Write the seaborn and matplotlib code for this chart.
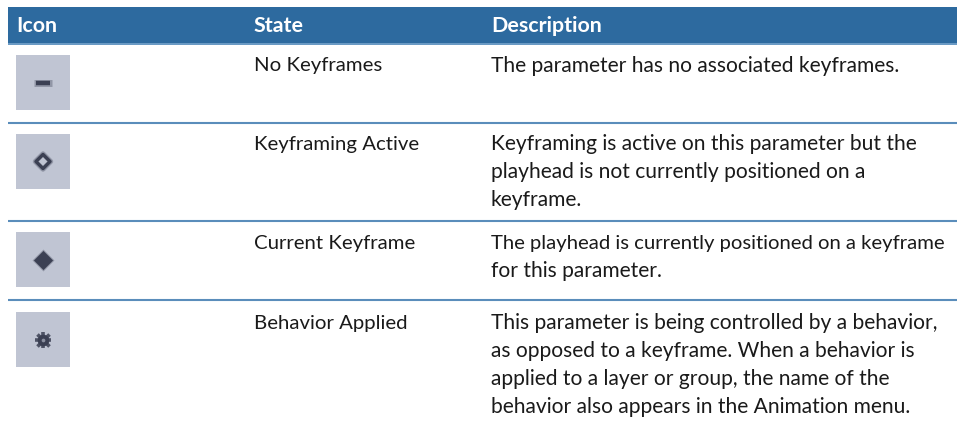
#!/usr/bin/env python3

import matplotlib
matplotlib.use("Agg")
import matplotlib.pyplot as plt
from matplotlib.patches import Rectangle
import pandas as pd
import seaborn as sns

headers = ["Icon", "State", "Description"]
states = ["No Keyframes", "Keyframing Active", "Current Keyframe", "Behavior Applied"]
descriptions = [
    ["The parameter has no associated keyframes."],
    ["Keyframing is active on this parameter but the",
     "playhead is not currently positioned on a",
     "keyframe."],
    ["The playhead is currently positioned on a keyframe",
     "for this parameter."],
    ["This parameter is being controlled by a behavior,",
     "as opposed to a keyframe. When a behavior is",
     "applied to a layer or group, the name of the",
     "behavior also appears in the Animation menu."],
]
icon_kinds = ["none", "active", "current", "behavior"]

BLUE = "#2d6a9f"
LIGHT_BLUE = "#6a9ac4"
RULE = "#5a8dbb"
ICON_BG = "#c0c5d3"
ICON_FG = "#3b4053"
TEXT = "#1a1a1a"

rule_ys = [123, 221, 300]
baselines = [71.5, 150, 249, 329]
icon_tops = [55, 134, 232, 312]
col_x = [16, 254, 491]

sns.set_theme(style="white")
plt.rcParams["font.family"] = ["Lato", "DejaVu Sans"]

fig, ax = plt.subplots(figsize=(9.57, 4.24), dpi=100)
ax.set_position([0, 0, 1, 1])


def put_icon(kind, **kw):
    rows = icons[icons.kind == kind]
    sns.scatterplot(data=rows, x="x", y="y", ax=ax, legend=False, **kw)


# header band
ax.add_patch(Rectangle((8, 7), 949, 36, color=BLUE, lw=0))
ax.add_patch(Rectangle((8, 43), 949, 2, color=LIGHT_BLUE, lw=0))
for x, label in zip(col_x, headers):
    ax.text(x, 32, label, color="white", fontsize=15.4, fontweight="bold", va="baseline")

# rules between rows
for y in rule_ys:
    ax.plot([8, 957], [y, y], color=RULE, lw=1.5, solid_capstyle="butt")

# text of rows
for i, state in enumerate(states):
    y = baselines[i]
    ax.text(col_x[1], y, state, color=TEXT, fontsize=14.7, va="baseline")
    for j, line in enumerate(descriptions[i]):
        # this one line is set tighter in the original
        size = 14.6 if line.startswith("The playhead") else 15.15
        ax.text(col_x[2], y + j * 28, line, color=TEXT, fontsize=size, va="baseline")

# icons
for top in icon_tops:
    ax.add_patch(Rectangle((16, top), 54, 55, color=ICON_BG, lw=0))

icons = pd.DataFrame({
    "x": [43] * 4,
    "y": [t + 27.5 for t in icon_tops],
    "kind": icon_kinds,
})
# soft halo first, then the sharp mark, the source icons are blurry
put_icon("none", marker="_", s=150, color=ICON_FG, alpha=0.35, linewidth=5)
put_icon("none", marker="_", s=110, color=ICON_FG, linewidth=3.2)
put_icon("active", marker="D", s=62, facecolor="none", edgecolor=ICON_FG, alpha=0.35, linewidth=3.6)
put_icon("active", marker="D", s=52, facecolor="none", edgecolor=ICON_FG, linewidth=2.4)
put_icon("current", marker="D", s=125, color=ICON_FG, alpha=0.35, linewidth=0)
put_icon("current", marker="D", s=95, color=ICON_FG, linewidth=0)
put_icon("behavior", marker="+", s=130, color=ICON_FG, alpha=0.85, linewidth=2.6)
put_icon("behavior", marker="x", s=75, color=ICON_FG, alpha=0.85, linewidth=2.6)
put_icon("behavior", marker="o", s=70, color=ICON_FG, linewidth=0)
put_icon("behavior", marker="o", s=7, color="#8b90a0", linewidth=0)

ax.set_xlim(0, 957)
ax.set_ylim(424, 0)
ax.axis("off")

fig.savefig("out.png", dpi=100)
